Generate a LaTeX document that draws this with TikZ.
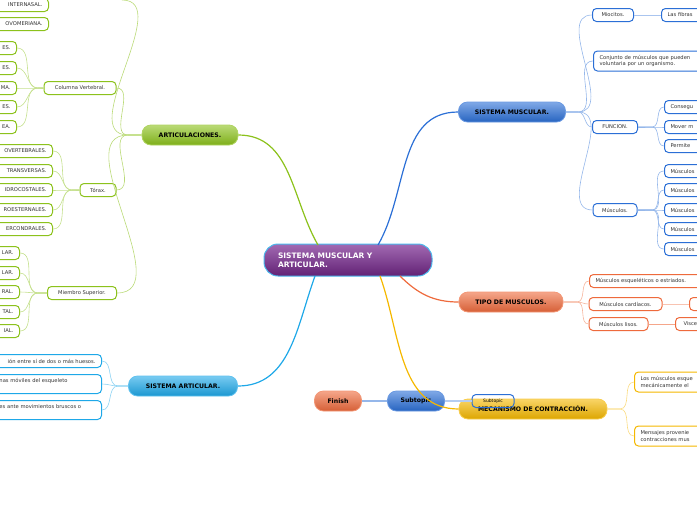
\documentclass[tikz,border=0pt]{standalone}
\usepackage{fontspec}
\setmainfont{DejaVu Sans}
\begin{document}
\begin{tikzpicture}[x=1pt,y=-1pt,
 main/.style={rounded corners=9pt,draw=#1!70!white,line width=0.8pt,top color=#1!60!white,bottom color=#1!90!black,font=\fontsize{6.2}{7}\selectfont\bfseries,inner sep=0pt,minimum height=20pt},
 leaf/.style={rounded corners=4pt,draw=#1,line width=1pt,fill=white,font=\fontsize{5.2}{6.2}\selectfont,text=black!80,inner ysep=2pt,inner xsep=6pt,minimum height=13pt},
 lc/.style={draw=#1,line width=0.6pt}]
\useasboundingbox (0,0) rectangle (697,520);
\clip (0,0) rectangle (697,520);
\definecolor{gr}{HTML}{8CC21C}
\definecolor{bl}{HTML}{2B6FD6}
\definecolor{or}{HTML}{EE6A3C}
\definecolor{sk}{HTML}{1EA8E8}
\definecolor{ye}{HTML}{F5B800}
\definecolor{pu}{HTML}{7A2A92}
% central
\node[rounded corners=14pt,draw=sk!80,line width=1pt,top color=pu!70!white,bottom color=pu!80!black,minimum width=168pt,minimum height=32pt,text=white,font=\fontsize{7.5}{9}\selectfont\bfseries,align=left,text width=140pt] (c) at (348,260) {SISTEMA MUSCULAR Y\\ARTICULAR.};
% main branches
\node[main=gr,minimum width=96pt] (art) at (190,135) {ARTICULACIONES.};
\node[main=bl,minimum width=107pt] (mus) at (512,112) {SISTEMA MUSCULAR.};
\node[main=or,minimum width=104pt] (tip) at (511,302) {TIPO DE MUSCULOS.};
\node[main=sk,minimum width=109pt] (sar) at (183,386) {SISTEMA ARTICULAR.};
\node[main=ye,minimum width=148pt] (mec) at (533,409) {MECANISMO DE CONTRACCIÓN.};
\node[main=bl,minimum width=57pt] (sub) at (416,401) {Subtopic};
\node[main=or,minimum width=47pt] (fin) at (338,401) {Finish};
\node[rounded corners=4pt,draw=bl,line width=1pt,font=\fontsize{4.5}{5}\selectfont,minimum width=42pt,minimum height=13pt,inner sep=0pt] (sub2) at (493,401) {Subtopic};
% central connectors
\draw[lc=gr,line width=1.2pt] (318,245) to[out=120,in=0] (art.east);
\draw[lc=bl,line width=1.2pt] (378,245) to[out=60,in=180] (mus.west);
\draw[lc=or,line width=1.2pt] (400,276) to[out=-45,in=180] (tip.west);
\draw[lc=sk,line width=1.2pt] (315,276) to[out=-110,in=0] (sar.east);
\draw[lc=ye,line width=1.2pt] (380,276) to[out=-70,in=180] (mec.west);
\draw[lc=bl!50,line width=1.5pt] (fin.east) -- (sub.west);
\draw[lc=bl!35,line width=1.5pt] (sub.east) -- (sub2.west);
% green sub
\node[leaf=gr,minimum width=72pt] (cv) at (80,88) {Columna Vertebral.};
\node[leaf=gr,minimum width=36pt] (tx) at (98,190) {Tórax.};
\node[leaf=gr,minimum width=69pt] (ms) at (82,293) {Miembro Superior.};
\coordinate (up) at (122,0);
\foreach \n in {cv,tx,ms,up}{\draw[lc=gr!60] (art.west) -- (128,135) to[out=180,in=0] (\n);}
\node[leaf=gr,anchor=east,text width=70pt,align=right] (a1) at (49,5) {INTERNASAL.};
\node[leaf=gr,anchor=east,text width=70pt,align=right] (a2) at (49,24) {OVOMERIANA.};
\foreach \y/\t [count=\i] in {48/ES.,68/ES.,88/MA.,107/ES.,127/EA.}{
 \node[leaf=gr,anchor=east,text width=30pt,align=right] (cv\i) at (17,\y) {\t};
 \draw[lc=gr!50] (cv.west) -- (38,88) to[out=180,in=0] (cv\i.east);}
\foreach \y/\t [count=\i] in {151/OVERTEBRALES.,171/TRANSVERSAS.,190/IDROCOSTALES.,210/ROESTERNALES.,229/ERCONDRALES.}{
 \node[leaf=gr,anchor=east,text width=60pt,align=right] (tx\i) at (53,\y) {\t};
 \draw[lc=gr!50] (tx.west) -- (72,190) to[out=180,in=0] (tx\i.east);}
\foreach \y/\t [count=\i] in {253/LAR.,273/LAR.,292/RAL.,312/TAL.,331/IAL.}{
 \node[leaf=gr,anchor=east,text width=30pt,align=right] (ms\i) at (20,\y) {\t};
 \draw[lc=gr!50] (ms.west) -- (38,293) to[out=180,in=0] (ms\i.east);}
% sistema articular leaves
\node[leaf=sk,anchor=east,text width=120pt,align=right] (s1) at (102,361) {ión entre sí de dos o más huesos.};
\node[leaf=sk,anchor=east,text width=120pt,align=left,minimum height=19pt,text depth=7pt] (s2) at (102,384) {\hspace*{24pt}nas móviles del esqueleto};
\node[leaf=sk,anchor=east,text width=120pt,align=left,minimum height=19pt,text depth=7pt] (s3) at (102,410) {\hspace*{24pt}es ante movimientos bruscos o};
\foreach \n in {s1,s2,s3}{\draw[lc=sk!50] (sar.west) -- (118,386) to[out=180,in=0] (\n.east);}
% muscular
\node[leaf=bl,minimum width=41pt] (mi) at (613,15) {Miocitos.};
\node[leaf=bl,anchor=west,text width=50pt,align=left] (fi) at (661,15) {Las fibras};
\draw[lc=bl!40,line width=1pt] (mi) -- (fi);
\node[leaf=bl,anchor=west,text width=110pt,align=left,minimum height=20pt] (cj) at (593,61) {Conjunto de músculos que pueden\\voluntaria por un organismo.};
\node[leaf=bl,minimum width=45pt] (fu) at (615,127) {FUNCION.};
\node[leaf=bl,minimum width=44pt] (mu) at (615,210) {Músculos.};
\foreach \n in {mi,cj,fu,mu}{\draw[lc=bl!50] (mus.east) -- (578,112) to[out=0,in=180] (\n.west);}
\foreach \y/\t [count=\i] in {107/Consegu,127/Mover m,146/Permite}{
 \node[leaf=bl,anchor=west,text width=40pt,align=left] (fu\i) at (664,\y) {\t};
 \draw[lc=bl!50] (fu.east) -- (652,127) to[out=0,in=180] (fu\i.west);}
\foreach \y [count=\i] in {171,190,210,229,249}{
 \node[leaf=bl,anchor=west,text width=40pt,align=left] (mu\i) at (664,\y) {Músculos};
 \draw[lc=bl!50] (mu.east) -- (652,210) to[out=0,in=180] (mu\i.west);}
% tipo
\node[leaf=or,anchor=west,text width=120pt,align=left] (t1) at (589,281) {Músculos esqueléticos o estriados.};
\node[leaf=or,minimum width=73pt] (t2) at (625.5,304) {Músculos cardíacos.};
\node[leaf=or,minimum width=59pt] (t3) at (618.5,324) {Músculos lisos.};
\node[leaf=or,anchor=west,text width=30pt] (t2a) at (689,304) {};
\node[leaf=or,anchor=west,text width=40pt,align=left] (t3a) at (675,324) {\hspace*{2pt}Visce};
\foreach \n in {t1,t2,t3}{\draw[lc=or!50] (tip.east) -- (577,302) to[out=0,in=180] (\n.west);}
\draw[lc=or!40,line width=1pt] (t2) -- (t2a); \draw[lc=or!60,line width=1pt] (t3) -- (t3a);
% mecanismo
\node[leaf=ye,anchor=west,text width=80pt,align=left,minimum height=20pt] (m1) at (634,382) {Los músculos esque\\mecánicamente el};
\node[leaf=ye,anchor=west,text width=80pt,align=left,minimum height=20pt] (m2) at (634,436) {Mensajes provenie\\contracciones mus};
\foreach \n in {m1,m2}{\draw[lc=ye!50] (mec.east) -- (620,409) to[out=0,in=180] (\n.west);}
\end{tikzpicture}
\end{document}
